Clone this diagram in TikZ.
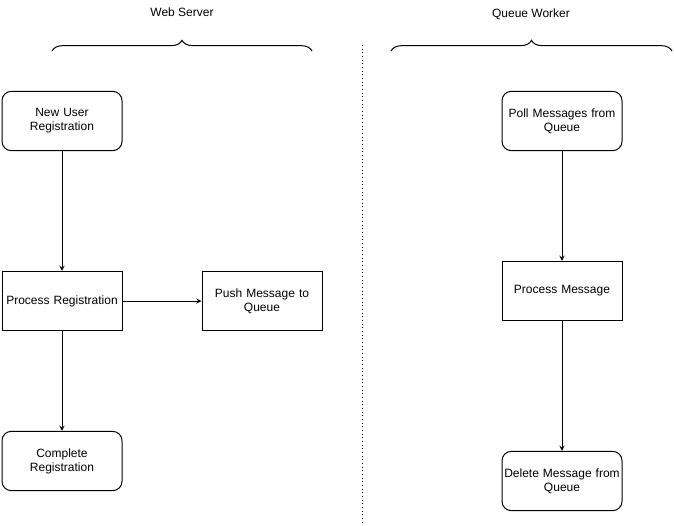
\documentclass[tikz,border=0pt]{standalone}
\usepackage{fontspec}
\setmainfont{Liberation Sans}
\usetikzlibrary{decorations.pathreplacing}
\tikzset{
  stepbox/.style={draw, line width=0.75pt, minimum width=90pt, minimum height=44.5pt, align=center, font=\fontsize{9}{10.5}\selectfont, inner sep=1pt, text width=88pt},
  roundbox/.style={stepbox, rounded corners=7pt},
  flow/.style={-stealth, line width=0.75pt}
}
\begin{document}
\begin{tikzpicture}[x=0.75pt, y=-0.75pt]
    \useasboundingbox (0,0) rectangle (674,525);
    % headings
    \node[font=\fontsize{9}{10.5}\selectfont] (web) at (182,12) {Web Server};
    \node[font=\fontsize{9}{10.5}\selectfont] (worker) at (531,14) {Queue Worker};
    \draw[line width=0.75pt, decorate, decoration={brace, amplitude=8pt}] (52,51) -- (312,51);
    \draw[line width=0.75pt, decorate, decoration={brace, amplitude=8pt}] (391,51) -- (672,51);
    \draw[line width=0.75pt, dotted] (362,45) -- (362,525);

    % web server
    \node[roundbox] (newuser) at (62,121) {New User\\Registration};
    \node[stepbox] (procreg) at (62,301) {Process Registration};
    \node[stepbox] (push) at (262,301) {Push Message to\\Queue};
    \node[roundbox] (complete) at (62,461) {Complete\\Registration};

    % queue worker
    \node[roundbox] (poll) at (562,121) {Poll Messages from\\Queue};
    \node[stepbox] (procmsg) at (562,291) {Process Message};
    \node[roundbox] (delete) at (562,481) {Delete Message from\\Queue};

    \draw[flow] (newuser) -- (procreg);
    \draw[flow] (procreg) -- (push);
    \draw[flow] (procreg) -- (complete);
    \draw[flow] (poll) -- (procmsg);
    \draw[flow] (procmsg) -- (delete);
\end{tikzpicture}
\end{document}
